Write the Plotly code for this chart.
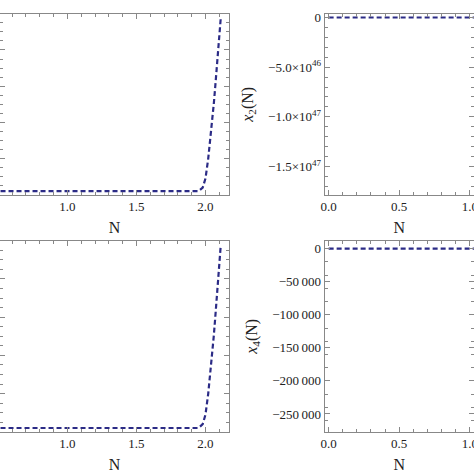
import plotly.graph_objects as go

# left panels: flat, then sharp rise near N = 2
n_left = [0.4, 1.0, 1.5, 1.9, 1.95, 1.98, 2.0, 2.02, 2.04, 2.06, 2.07, 2.08, 2.09, 2.1, 2.11]
x1 = [0.02, 0.02, 0.02, 0.02, 0.02, 0.04, 0.09, 0.2, 0.34, 0.5, 0.59, 0.69, 0.8, 0.89, 0.97]
x3 = [0.02, 0.02, 0.02, 0.02, 0.02, 0.04, 0.09, 0.2, 0.34, 0.5, 0.59, 0.69, 0.8, 0.89, 0.97]

# right panels: stays at zero over the visible range
n_right = [0.0, 0.25, 0.5, 0.75, 1.0, 1.1]
x2 = [0, 0, 0, 0, 0, 0]
x4 = [0, 0, 0, 0, 0, 0]

x2_ticks = [0, -5e46, -1e47, -1.5e47]
x2_labels = ["0", "\u22125.0\u00d710<sup>46</sup>", "\u22121.0\u00d710<sup>47</sup>", "\u22121.5\u00d710<sup>47</sup>"]
x4_ticks = [0, -50000, -100000, -150000, -200000, -250000]
x4_labels = ["0", "\u221250\u2009000", "\u2212100\u2009000", "\u2212150\u2009000", "\u2212200\u2009000", "\u2212250\u2009000"]

line = dict(color="#2b2b86", width=2.2, dash="5px,3px")
fig = go.Figure()
fig.add_trace(go.Scatter(x=n_left, y=x1, mode="lines", line=line, xaxis="x", yaxis="y"))
fig.add_trace(go.Scatter(x=n_right, y=x2, mode="lines", line=line, xaxis="x2", yaxis="y2"))
fig.add_trace(go.Scatter(x=n_left, y=x3, mode="lines", line=line, xaxis="x3", yaxis="y3"))
fig.add_trace(go.Scatter(x=n_right, y=x4, mode="lines", line=line, xaxis="x4", yaxis="y4"))

frame = dict(showline=True, linecolor="#888", linewidth=1, mirror="allticks", ticks="inside",
             ticklen=5, tickcolor="#888", showgrid=False, zeroline=False, automargin=False,
             ticklabeloverflow="allow",
             minor=dict(ticks="inside", ticklen=3, tickcolor="#888", nticks=5))
top = [0.589, 0.971]
bot = [0.089, 0.492]
left = [0.0, 0.483]
right = [0.685, 1.0]

def xax(dom, anchor, rng, title):
    return dict(frame, domain=dom, anchor=anchor, range=rng, dtick=0.5, tickformat=".1f",
                minor=dict(frame["minor"], dtick=0.1), title=dict(text=title, standoff=8))

fig.update_layout(
    width=474, height=474, showlegend=False,
    paper_bgcolor="white", plot_bgcolor="white",
    margin=dict(l=0, r=0, t=0, b=0, autoexpand=False),
    font=dict(family="Liberation Serif", size=13, color="#222"),
    xaxis=xax(left, "y", [0.512, 2.17], "N"),
    yaxis=dict(frame, domain=top, anchor="x", range=[0, 1], showticklabels=False),
    xaxis2=xax(right, "y2", [-0.028, 1.03], "N"),
    yaxis2=dict(frame, domain=top, anchor="x2", range=[-1.786e47, 3.8e45],
                tickvals=x2_ticks, ticktext=x2_labels,
                title=dict(text="<i>x</i><sub>2</sub>(N)", standoff=10)),
    xaxis3=xax(left, "y3", [0.512, 2.17], "N"),
    yaxis3=dict(frame, domain=bot, anchor="x3", range=[0, 1], showticklabels=False),
    xaxis4=xax(right, "y4", [-0.028, 1.03], "N"),
    yaxis4=dict(frame, domain=bot, anchor="x4", range=[-277000, 12000],
                tickvals=x4_ticks, ticktext=x4_labels,
                title=dict(text="<i>x</i><sub>4</sub>(N)", standoff=10)),
)
fig.write_html("out.html", config={"displayModeBar": False},
               post_script="document.body.style.margin='0';")
